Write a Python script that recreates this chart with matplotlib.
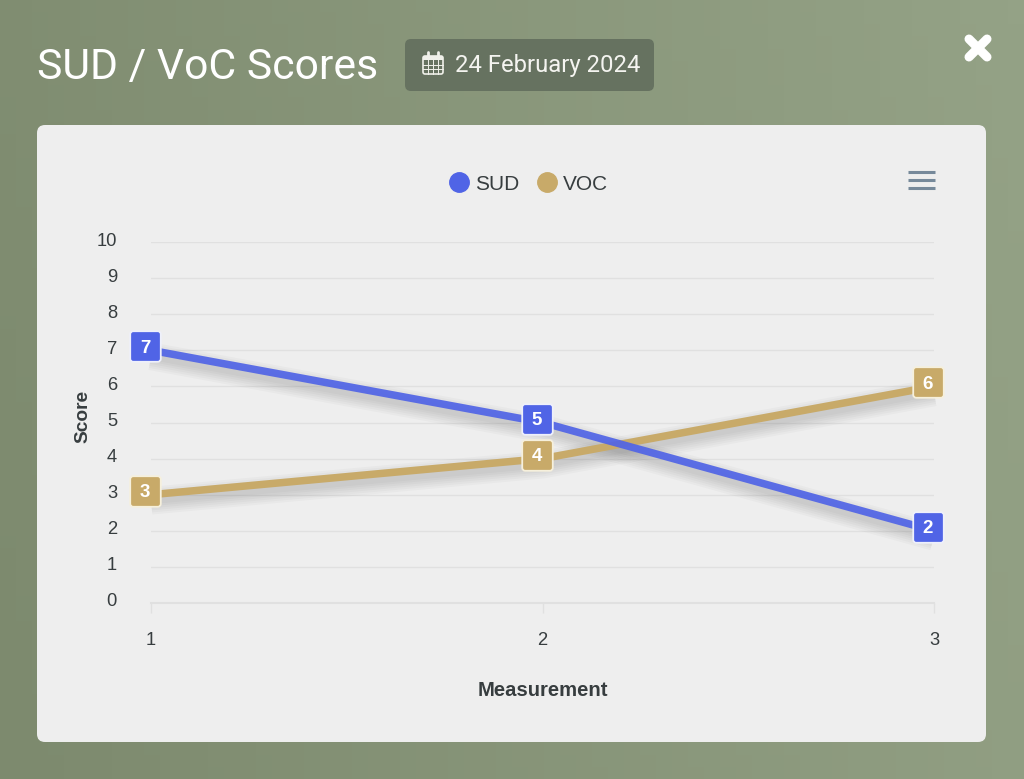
import numpy as np
import matplotlib
matplotlib.use("Agg")
import matplotlib.pyplot as plt
from matplotlib.colors import LinearSegmentedColormap
from matplotlib.lines import Line2D
from matplotlib.patches import FancyBboxPatch, Rectangle
from matplotlib.transforms import ScaledTranslation

measurements = [1, 2, 3]
sud_scores = [7, 5, 2]
voc_scores = [3, 4, 6]
y_ticks = list(range(0, 11))

SUD_COL = "#5064e6"
VOC_COL = "#c8aa69"
TEXT_COL = "#373d3f"
GRID_COL = "#e0e0e0"
SANS = "Liberation Sans"

W, H = 1024, 779
fig = plt.figure(figsize=(W / 100, H / 100), dpi=100)

# page layer in pixel coordinates
bg = fig.add_axes([0, 0, 1, 1])
bg.set_xlim(0, W)
bg.set_ylim(H, 0)
bg.axis("off")
cmap = LinearSegmentedColormap.from_list("bg", ["#7d8a6e", "#94a286"])
xx, yy = np.meshgrid(np.linspace(0, 1, 64), np.linspace(0, 1, 64))
bg.imshow(xx * 0.85 + (1 - yy) * 0.15, cmap=cmap, vmin=0, vmax=1, extent=[0, W, H, 0],
          aspect="auto", zorder=0)

# white card
bg.add_patch(FancyBboxPatch((37, 125), 949, 617, boxstyle="round,pad=0,rounding_size=8",
                            fc="#eeeeee", ec="none", zorder=1))

# heading
bg.text(37, 67, "SUD / VoC Scores", color="#ffffff", fontsize=30.8, family="Roboto",
        va="center", ha="left", zorder=2)
bg.add_patch(FancyBboxPatch((405, 39), 249, 52, boxstyle="round,pad=0,rounding_size=6",
                            fc="#667260", ec="none", zorder=2))
bg.text(455, 65, "24 February 2024", color="#f4f4f0", fontsize=17.2, family="Roboto",
        va="center", ha="left", zorder=3)

# calendar icon
ICON = "#f0f0ea"
bg.add_patch(FancyBboxPatch((423, 56), 20, 18, boxstyle="round,pad=0,rounding_size=2",
                            fc="none", ec=ICON, lw=1.2, zorder=3))
bg.add_patch(Rectangle((423, 56), 20, 4, fc=ICON, ec="none", zorder=3))
for gx in (428, 433, 438):
    bg.plot([gx, gx], [60, 74], color=ICON, lw=0.7, zorder=3)
for gy in (64.5, 69):
    bg.plot([423, 443], [gy, gy], color=ICON, lw=0.7, zorder=3)
for gx in (428, 438):
    bg.plot([gx, gx], [52, 57], color=ICON, lw=2, solid_capstyle="round", zorder=4)

# close cross
for x0, y0, x1, y1 in [(969, 39, 987, 57), (969, 57, 987, 39)]:
    bg.plot([x0, x1], [y0, y1], color="#ffffff", lw=6.5, solid_capstyle="round", zorder=3)

# hamburger menu
for gy in (172, 180, 188):
    bg.plot([908, 935], [gy, gy], color="#76899a", lw=2.2, solid_capstyle="butt", zorder=3)

# chart area, x=1..3 and y=0..10
ax = fig.add_axes([151 / W, 1 - 603 / H, (934 - 151) / W, (603 - 242) / H], zorder=5)
ax.patch.set_alpha(0)
ax.set_xlim(1, 3)
ax.set_ylim(0, 10)
for side in ("top", "right", "left"):
    ax.spines[side].set_visible(False)
ax.spines["bottom"].set_color(GRID_COL)
ax.spines["bottom"].set_linewidth(1.5)
ax.set_axisbelow(True)
ax.yaxis.grid(True, color=GRID_COL, lw=1)
ax.xaxis.grid(False)

ax.set_xticks(measurements)
ax.set_yticks(y_ticks)
ax.tick_params(axis="x", length=7, width=1, color=GRID_COL, pad=14, labelsize=13.2,
               labelcolor=TEXT_COL)
ax.tick_params(axis="y", length=0, pad=24.5, labelsize=13.2, labelcolor=TEXT_COL)
up = ScaledTranslation(0, 3 / 100, fig.dpi_scale_trans)
for lab in ax.get_yticklabels():
    lab.set_transform(lab.get_transform() + up)
for lab in ax.get_xticklabels() + ax.get_yticklabels():
    lab.set_family(SANS)

ax.set_xlabel("Measurement", fontsize=14.6, fontweight="bold", family=SANS, color=TEXT_COL)
ax.xaxis.set_label_coords(0.5, -(691 - 603) / (603 - 242), ax.transAxes)
ax.xaxis.label.set_va("center")
ax.set_ylabel("Score", fontsize=13.8, fontweight="bold", family=SANS, color=TEXT_COL)
ax.yaxis.set_label_coords(-(151 - 83) / (934 - 151), (603 - 416) / (603 - 242), ax.transAxes)
ax.yaxis.label.set_va("center")

# soft drop shadow under the lines
shadow = ax.transData + ScaledTranslation(0, -6 / 100, fig.dpi_scale_trans)
for ys in (voc_scores, sud_scores):
    for lw in (20, 17, 14, 11, 8, 5):
        ax.plot(measurements, ys, color="#000000", alpha=0.022, lw=lw, transform=shadow,
                clip_on=False, solid_capstyle="butt", zorder=2)

ax.plot(measurements, voc_scores, color=VOC_COL, lw=5.4, clip_on=False, zorder=3,
        solid_capstyle="butt")
ax.plot(measurements, sud_scores, color=SUD_COL, alpha=0.92, lw=5.4, clip_on=False, zorder=3,
        solid_capstyle="butt")

# value tags sit a little up and left of their points
box = FancyBboxPatch((-0.5, -0.5), 1, 1, boxstyle="round,pad=0,rounding_size=0.1").get_path()
tag_shift = ax.transData + ScaledTranslation(-6 / 100, 4 / 100, fig.dpi_scale_trans)
for ys, col, edge in [(voc_scores, VOC_COL, "#f6f0dc"), (sud_scores, SUD_COL, "#eef0fb")]:
    ax.plot(measurements, ys, ls="none", marker=box, ms=22, mfc=col, mec=edge, mew=1.3,
            transform=tag_shift, clip_on=False, zorder=4)
    for mx, my in zip(measurements, ys):
        ax.text(mx, my, str(my), color="#ffffff", fontsize=13.5, fontweight="bold", family=SANS,
                ha="center", va="center_baseline", transform=tag_shift, clip_on=False, zorder=5)

# legend
handles = [
    Line2D([], [], ls="none", marker="o", ms=14, color=SUD_COL, label="SUD"),
    Line2D([], [], ls="none", marker="o", ms=14, color=VOC_COL, label="VOC"),
]
leg = ax.legend(handles=handles, ncol=2, frameon=False, loc="center",
                bbox_to_anchor=(528.3 / W, 1 - 184 / H), bbox_transform=fig.transFigure,
                prop={"family": SANS, "size": 15}, labelcolor=TEXT_COL,
                handletextpad=0.27, columnspacing=0.8, handlelength=1.0, borderpad=0)

fig.savefig("out.png", dpi=100)
